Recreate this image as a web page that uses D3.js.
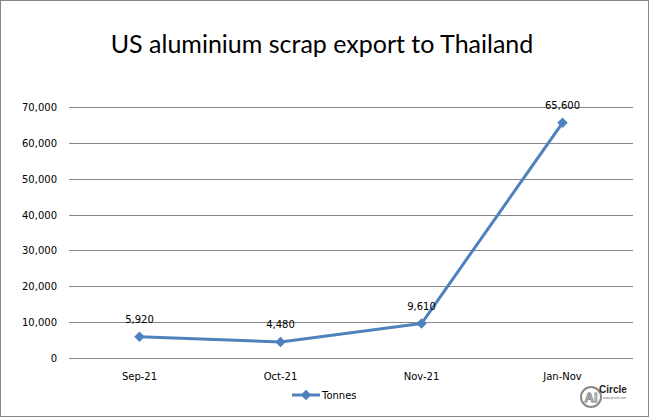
<!DOCTYPE html>
<html>
<head>
<meta charset="utf-8">
<script src="https://cdn.jsdelivr.net/npm/d3@7"></script>
<style>
  body { margin: 0; background: #fff; }
  svg { display: block; }
</style>
</head>
<body>
<div id="chart"></div>
<script>
const categories = ["Sep-21", "Oct-21", "Nov-21", "Jan-Nov"];
const tonnes = [5920, 4480, 9610, 65600];
const yTicks = [0, 10000, 20000, 30000, 40000, 50000, 60000, 70000];
const seriesName = "Tonnes";
const title = "US aluminium scrap export to Thailand";

const width = 649, height = 417;
const margin = { top: 107, right: 16, bottom: 59, left: 69 };
const blue = "#4F81BD";

const svg = d3.select("#chart").append("svg")
    .attr("width", width)
    .attr("height", height);

// outer frame
svg.append("rect")
    .attr("x", 0.5).attr("y", 0.5)
    .attr("width", width - 1).attr("height", height - 1)
    .attr("fill", "#fff")
    .attr("stroke", "#868686");

svg.append("text")
    .attr("x", 322).attr("y", 53)
    .attr("text-anchor", "middle")
    .attr("font-family", "Lato, 'Open Sans', sans-serif")
    .attr("font-size", 25)
    .attr("fill", "#000")
    .text(title);

const x = d3.scaleBand()
    .domain(categories)
    .range([margin.left, width - margin.right]);

const y = d3.scaleLinear()
    .domain([0, 70000])
    .range([height - margin.bottom, margin.top]);

// gridlines
svg.append("g")
    .selectAll("line")
    .data(yTicks)
    .join("line")
    .attr("x1", margin.left).attr("x2", width - margin.right)
    .attr("y1", d => Math.round(y(d)) + 0.5)
    .attr("y2", d => Math.round(y(d)) + 0.5)
    .attr("stroke", "#868686")
    .attr("stroke-width", 1);

// y axis labels
svg.append("g")
    .selectAll("text")
    .data(yTicks)
    .join("text")
    .attr("x", 57)
    .attr("y", d => y(d) + 4)
    .attr("text-anchor", "end")
    .attr("font-family", "DejaVu Sans, Verdana, sans-serif")
    .attr("font-size", 10)
    .attr("fill", "#000")
    .text(d => d3.format(",")(d));

// x axis labels
svg.append("g")
    .selectAll("text")
    .data(categories)
    .join("text")
    .attr("x", d => x(d) + x.bandwidth() / 2)
    .attr("y", height - margin.bottom + 22)
    .attr("text-anchor", "middle")
    .attr("font-family", "DejaVu Sans, Verdana, sans-serif")
    .attr("font-size", 10)
    .attr("fill", "#000")
    .text(d => d);

const cx = d => x(d) + x.bandwidth() / 2;
const pts = categories.map((c, i) => ({ c, v: tonnes[i] }));

svg.append("path")
    .datum(pts)
    .attr("fill", "none")
    .attr("stroke", blue)
    .attr("stroke-width", 3)
    .attr("stroke-linejoin", "round")
    .attr("d", d3.line().x(d => cx(d.c)).y(d => y(d.v)));

const diamond = d3.symbol().type(d3.symbolDiamond2).size(70);

svg.append("g")
    .selectAll("path")
    .data(pts)
    .join("path")
    .attr("transform", d => `translate(${cx(d.c)},${y(d.v)})`)
    .attr("d", diamond)
    .attr("fill", blue);

// data labels
svg.append("g")
    .selectAll("text")
    .data(pts)
    .join("text")
    .attr("x", d => cx(d.c))
    .attr("y", d => y(d.v) - 14)
    .attr("text-anchor", "middle")
    .attr("font-family", "DejaVu Sans, Verdana, sans-serif")
    .attr("font-size", 10)
    .attr("fill", "#000")
    .text(d => d3.format(",")(d.v));

// legend
const lg = svg.append("g").attr("transform", "translate(292,395)");
lg.append("line")
    .attr("x1", 0).attr("x2", 28)
    .attr("stroke", blue).attr("stroke-width", 3);
lg.append("path")
    .attr("transform", "translate(14,0)")
    .attr("d", diamond)
    .attr("fill", blue);
lg.append("text")
    .attr("x", 30).attr("y", 4)
    .attr("font-family", "DejaVu Sans, Verdana, sans-serif")
    .attr("font-size", 10)
    .attr("fill", "#000")
    .text(seriesName);

// logo
const logo = svg.append("g").attr("transform", "translate(591,397)");
logo.append("circle")
    .attr("r", 10)
    .attr("fill", "#fff")
    .attr("stroke", "#888")
    .attr("stroke-width", 2);
logo.append("text")
    .attr("y", 5)
    .attr("text-anchor", "middle")
    .attr("font-family", "Liberation Sans, Arial, sans-serif")
    .attr("font-weight", "bold")
    .attr("font-size", 13)
    .attr("fill", "#fff")
    .attr("stroke", "#888")
    .attr("stroke-width", 1)
    .text("Al");
logo.append("text")
    .attr("x", 8).attr("y", -4)
    .attr("font-family", "Liberation Sans, Arial, sans-serif")
    .attr("font-weight", "bold")
    .attr("font-size", 10)
    .attr("fill", "#222")
    .text("Circle");
logo.append("text")
    .attr("x", 12).attr("y", 2)
    .attr("font-family", "Liberation Sans, Arial, sans-serif")
    .attr("font-size", 3)
    .attr("fill", "#666")
    .text("www.alcircle.com");
</script>
</body>
</html>
